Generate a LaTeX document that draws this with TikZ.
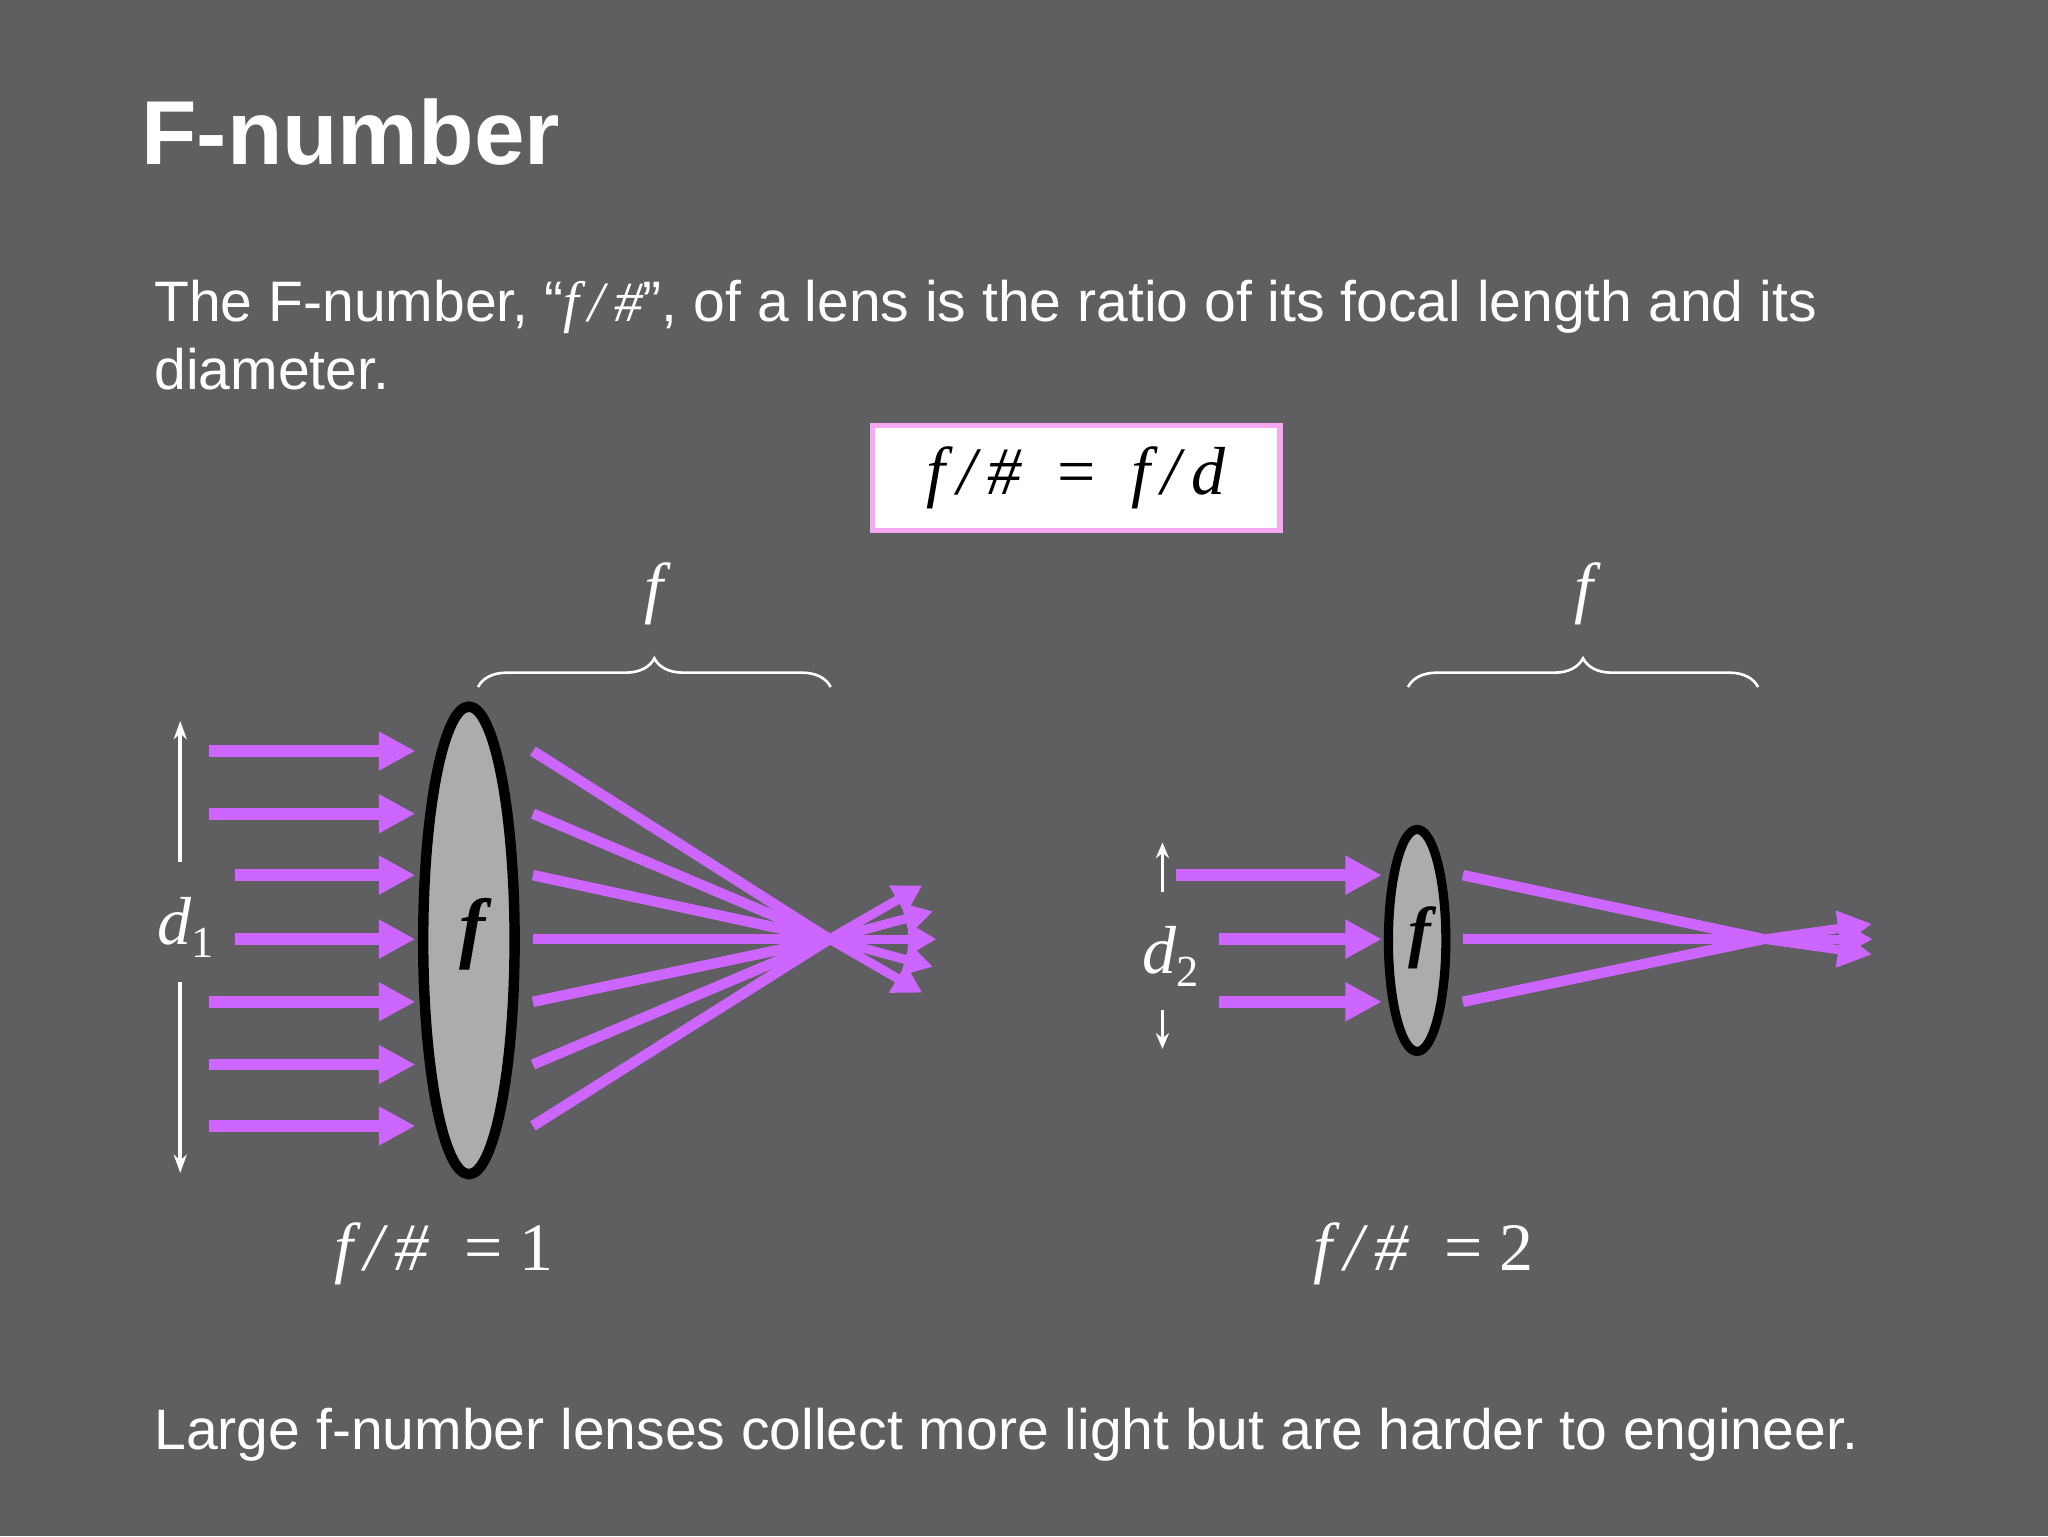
\documentclass[tikz,border=0pt]{standalone}
\usepackage{fontspec}
\setmainfont{Liberation Sans}
\newfontfamily\tms{Liberation Serif}
\usetikzlibrary{arrows.meta,decorations.pathreplacing,shapes.geometric}
\definecolor{bg}{HTML}{5F5F61}
\definecolor{ray}{HTML}{CC66FF}
\definecolor{pinkb}{HTML}{F7A8F5}
\tikzset{
 beam/.style={ray,line width=9pt,-{Triangle[length=28pt,width=28pt]}},
 rayl/.style={ray,line width=8pt},
 lensA/.style={draw=black,fill=gray!65,line width=8pt},
 txt/.style={text=white,anchor=base west,inner sep=0pt,font=\fontsize{43.7}{50}\selectfont},
 mth/.style={text=white,inner sep=0pt,font=\tms\itshape\fontsize{52}{60}\selectfont},
 dimw/.style={white,line width=3pt},
 brc/.style={white,line width=2pt,decorate,decoration={brace,amplitude=22pt,aspect=0.5}}
}
\begin{document}
\begin{tikzpicture}[x=1pt,y=-1pt]
\fill[bg] (0,0) rectangle (1568,1176);
\useasboundingbox (0,0) rectangle (1568,1176);
\node[txt,font=\bfseries\fontsize{69.5}{70}\selectfont] (title) at (108,126) {F-number};
\node[txt] (l1) at (118,246) {The F-number, “{\tms\itshape f\,/\,\#}”, of a lens is the ratio of its focal length and its};
\node[txt] (l2) at (118,298) {diameter.};
\node[draw=pinkb,line width=4pt,fill=white,minimum width=312pt,minimum height=80pt,text=black,font=\tms\itshape\fontsize{52}{60}\selectfont] (eq) at (824,366) {\raisebox{-6pt}{f\,/\,\#\; {\upshape =}\; f\,/\,d}};
% left lens
\foreach \y/\x in {575/160,623/160,670/180,719/180,767/160,815/160,862/160}
  \draw[beam] (\x,\y) -- (318,\y);
\coordinate (fA) at (635,719);
\foreach \y in {575,623,670,719,767,815,862}
  \draw[rayl] (408,\y) -- (fA);
\foreach \a in {-30,-15,0,15,30}
  \draw[ray,line width=7pt,-{Triangle[length=22pt,width=24pt]}] (fA) -- ++(\a:82);
\node[lensA,ellipse,minimum width=70pt,minimum height=358pt] (lensL) at (359,720) {};
\node[text=black,font=\tms\bfseries\itshape\fontsize{60}{60}\selectfont] (fl) at (362,715) {f};
\node[mth] (d1) at (142,710) {d\raisebox{-10pt}{\fontsize{34}{34}\selectfont\upshape 1}};
\draw[dimw,-{Stealth[length=14pt,width=10pt]}] (138,660) -- (138,552);
\draw[dimw,-{Stealth[length=14pt,width=10pt]}] (138,752) -- (138,898);
\draw[brc] (366,526) -- (636,526);
\node[mth] (bf1) at (501,455) {f};
\node[mth] (r1) at (340,960) {f\,/\,\#\; {\upshape = 1}};
% right lens
\draw[beam] (900,670) -- (1058,670);
\draw[beam] (933,719) -- (1058,719);
\draw[beam] (933,767) -- (1058,767);
\coordinate (fB) at (1350,719);
\foreach \y in {670,719,767} \draw[rayl] (1120,\y) -- (fB);
\foreach \a in {-8,0,8}
  \draw[ray,line width=7pt,-{Triangle[length=26pt,width=26pt]}] (fB) -- ++(\a:84);
\node[lensA,ellipse,line width=7pt,minimum width=44pt,minimum height=170pt] (lensR) at (1085,720) {};
\node[text=black,font=\tms\bfseries\itshape\fontsize{52}{52}\selectfont] (fr) at (1087,718) {f};
\node[mth] (d2) at (896,732) {d\raisebox{-10pt}{\fontsize{34}{34}\selectfont\upshape 2}};
\draw[dimw,-{Stealth[length=12pt,width=10pt]}] (890,683) -- (890,645);
\draw[dimw,-{Stealth[length=12pt,width=10pt]}] (890,773) -- (890,803);
\draw[brc] (1078,526) -- (1346,526);
\node[mth] (bf2) at (1213,455) {f};
\node[mth] (r2) at (1090,960) {f\,/\,\#\; {\upshape = 2}};
\node[txt] (bt) at (118,1110) {Large f-number lenses collect more light but are harder to engineer.};
\end{tikzpicture}
\end{document}
